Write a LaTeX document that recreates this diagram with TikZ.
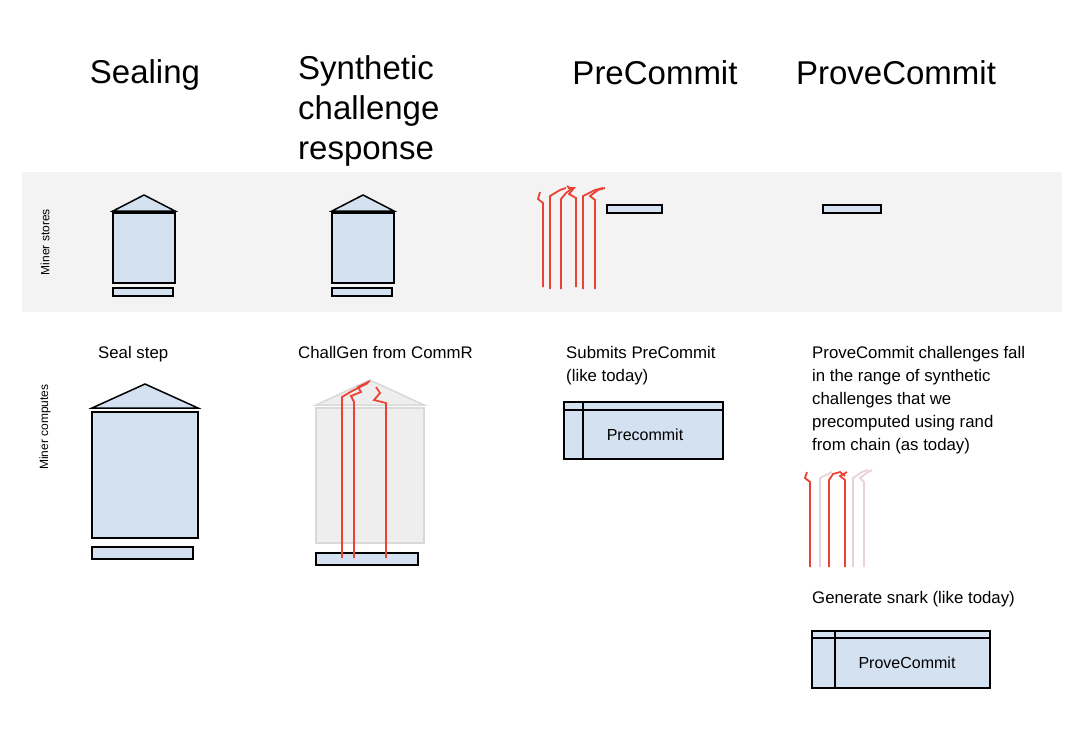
\documentclass[tikz,border=0pt]{standalone}
\usepackage{fontspec}
\setmainfont{Liberation Sans}
\definecolor{siloblue}{HTML}{D4E1F1}
\definecolor{bandgray}{HTML}{F3F3F3}
\definecolor{ghost}{HTML}{EEEEEE}
\definecolor{redline}{HTML}{EA4335}
\definecolor{pinkline}{HTML}{E9D3DA}
\tikzset{
  blk/.style={draw=black,fill=siloblue,line width=1.5pt},
  faint/.style={draw=black!15,fill=ghost,line width=1.5pt},
  wire/.style={draw=redline,line width=1.8pt},
  pale/.style={draw=pinkline,line width=1.8pt},
  head/.style={font=\fontsize{33}{40}\selectfont,align=left,inner sep=0pt},
  note/.style={font=\fontsize{16.8}{23}\selectfont,align=left,inner sep=0pt,anchor=north west},
  side/.style={font=\fontsize{12}{14}\selectfont,rotate=90,inner sep=0pt}
}
\begin{document}
\begin{tikzpicture}[x=1pt,y=-1pt]
    \useasboundingbox (0,0) rectangle (1092,736);
    \fill [bandgray] (22,172) rectangle (1062,312);
    \node [side] (stores) at (45,242) {Miner stores};
    \node [side] (computes) at (45,427) {Miner computes};
    % headings
    \node [head] (sealing) at (145,75) {Sealing};
    \node [head,anchor=north west] (synth) at (298,55) {Synthetic\\challenge\\response};
    \node [head] (precommit) at (655,73) {PreCommit};
    \node [head] (provecommit) at (896,73) {ProveCommit};
    % stored silos
    \foreach \x in {113,332} {
        \draw [blk] (\x,211) -- (\x+31,195) -- (\x+62,211) -- cycle;
        \draw [blk] (\x,213) rectangle (\x+62,283);
        \draw [blk] (\x,288) rectangle (\x+60,296);
    }
    \draw [blk] (607,205) rectangle (662,213);
    \draw [blk] (823,205) rectangle (881,213);
    \draw [wire] (543,287) -- (543,203) -- (538,199) -- (540,192);
    \draw [wire] (550,289) -- (550,196) -- (560,190) -- (566,188);
    \draw [wire] (561,289) -- (561,199) -- (566,193) -- (571,189) -- (567,186);
    \draw [wire] (576,287) -- (576,198) -- (569,194) -- (574,188) -- (568,188);
    \draw [wire] (583,289) -- (583,196) -- (595,190) -- (603,188);
    \draw [wire] (595,289) -- (595,200) -- (590,196) -- (598,190) -- (605,188);
    % computes column texts
    \node [note] (sealstep) at (98,346) {Seal step};
    \node [note] (challgen) at (298,346) {ChallGen from CommR};
    \node [note] (submits) at (566,346) {Submits PreCommit\\(like today)};
    \node [note] (fall) at (812,346) {ProveCommit challenges fall\\in the range of synthetic\\challenges that we\\precomputed using rand\\from chain (as today)};
    \node [note] (snarktxt) at (812,591) {Generate snark (like today)};
    % big silo
    \draw [blk] (92,408) -- (145,384) -- (198,408) -- cycle;
    \draw [blk] (92,412) rectangle (198,538);
    \draw [blk] (92,547) rectangle (193,559);
    % ghost silo
    \draw [faint] (316,405) -- (370,380) -- (424,405) -- cycle;
    \draw [faint] (316,408) rectangle (424,543);
    \draw [blk] (316,553) rectangle (418,565);
    \draw [wire] (342,558) -- (342,397) -- (352,391) -- (368,383);
    \draw [wire] (354,558) -- (354,402) -- (351,396) -- (361,392) -- (358,387) -- (370,381);
    \draw [wire] (386,558) -- (386,403) -- (374,400) -- (380,393) -- (376,387);
    % boxes
    \draw [blk] (564,402) rectangle (723,459);
    \draw [black,line width=1.5pt] (564,410) -- (723,410) (583,402) -- (583,459);
    \node [font=\fontsize{16}{18}\selectfont] (pcbox) at (645,435) {Precommit};
    \draw [blk] (812,631) rectangle (990,688);
    \draw [black,line width=1.5pt] (812,638) -- (990,638) (835,631) -- (835,688);
    \node [font=\fontsize{16}{18}\selectfont] (prbox) at (907,663) {ProveCommit};
    % sampled challenges
    \draw [wire] (810,567) -- (810,482) -- (805,478) -- (807,472);
    \draw [pale] (820,567) -- (820,478) -- (832,472);
    \draw [wire] (829,567) -- (829,480) -- (833,474) -- (840,472) -- (845,476);
    \draw [wire] (845,567) -- (845,480) -- (840,476) -- (847,472);
    \draw [pale] (853,567) -- (853,478) -- (862,472) -- (868,470);
    \draw [pale] (864,567) -- (864,482) -- (860,478) -- (868,472) -- (872,470);
\end{tikzpicture}
\end{document}
